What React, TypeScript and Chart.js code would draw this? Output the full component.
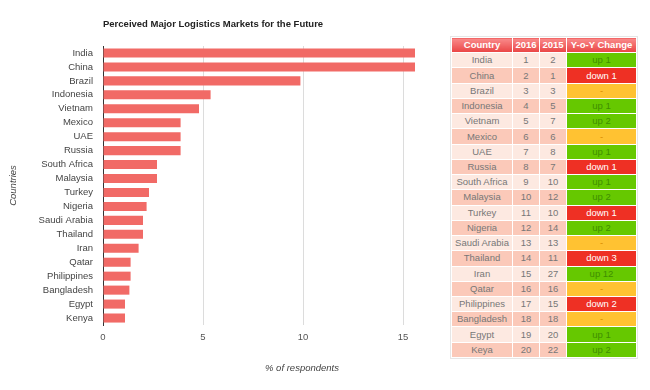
import React, { useEffect, useRef } from "react";
import { Chart, registerables } from "chart.js";

Chart.register(...registerables);

const chartTitle = "Perceived Major Logistics Markets for the Future";
const xAxisTitle = "% of respondents";
const yAxisTitle = "Countries";

const countries = [
  "India", "China", "Brazil", "Indonesia", "Vietnam", "Mexico", "UAE", "Russia",
  "South Africa", "Malaysia", "Turkey", "Nigeria", "Saudi Arabia", "Thailand",
  "Iran", "Qatar", "Philippines", "Bangladesh", "Egypt", "Kenya",
];
const respondents = [
  15.6, 15.6, 9.87, 5.38, 4.8, 3.88, 3.88, 3.88, 2.7, 2.7, 2.3, 2.18, 2.0, 2.0,
  1.78, 1.38, 1.38, 1.32, 1.1, 1.1,
];
const xTicks = [0, 5, 10, 15];

const tableHeader = ["Country", "2016", "2015", "Y-o-Y Change"];
const tableCountries = [
  "India", "China", "Brazil", "Indonesia", "Vietnam", "Mexico", "UAE", "Russia",
  "South Africa", "Malaysia", "Turkey", "Nigeria", "Saudi Arabia", "Thailand",
  "Iran", "Qatar", "Philippines", "Bangladesh", "Egypt", "Keya",
];
const rank2016 = [1, 2, 3, 4, 5, 6, 7, 8, 9, 10, 11, 12, 13, 14, 15, 16, 17, 18, 19, 20];
const rank2015 = [2, 1, 3, 5, 7, 6, 8, 7, 10, 12, 10, 14, 13, 11, 27, 16, 15, 18, 20, 22];
const changes = [
  "up 1", "down 1", "-", "up 1", "up 2", "-", "up 1", "down 1", "up 1", "up 2",
  "down 1", "up 2", "-", "down 3", "up 12", "-", "down 2", "-", "up 1", "up 2",
];

const FONT = '"Liberation Sans", Arial, sans-serif';

function changeStyle(c: string): React.CSSProperties {
  if (c.startsWith("up")) return { background: "#66c800", color: "#3f8f00" };
  if (c.startsWith("down")) return { background: "#ee3024", color: "#ffffff" };
  return { background: "#ffc232", color: "#d98c00" };
}

export default function App() {
  const ref = useRef<HTMLCanvasElement>(null);

  useEffect(() => {
    if (!ref.current) return;
    Chart.defaults.font.family = FONT;
    const titles = {
      id: "customTitles",
      afterDraw(chart: any) {
        const ctx = chart.ctx;
        const a = chart.chartArea;
        ctx.save();
        ctx.font = `bold 9.5px ${FONT}`;
        ctx.fillStyle = "#222222";
        ctx.textAlign = "left";
        ctx.textBaseline = "middle";
        ctx.fillText(chartTitle, a.left, 24);
        ctx.font = `italic 9.5px ${FONT}`;
        ctx.fillStyle = "#444444";
        ctx.textAlign = "center";
        ctx.fillText(xAxisTitle, a.left + 199, 368);
        ctx.restore();
      },
    };
    const chart = new Chart(ref.current, {
      type: "bar",
      data: {
        labels: countries,
        datasets: [
          {
            data: respondents,
            backgroundColor: "#f16a66",
            barPercentage: 0.65,
            categoryPercentage: 1,
          },
        ],
      },
      options: {
        indexAxis: "y",
        responsive: false,
        animation: false,
        layout: { padding: { top: 46, right: 17, bottom: 0, left: 0 } },
        plugins: {
          legend: { display: false },
          tooltip: { enabled: false },
          title: { display: false },
        },
        scales: {
          x: {
            min: 0,
            max: 16,
            afterBuildTicks: (s: any) => {
              s.ticks = xTicks.map((v) => ({ value: v }));
            },
            afterFit: (s: any) => {
              s.height = 65;
            },
            grid: {
              color: (c: any) =>
                c.tick && c.tick.value === 0 ? "rgba(0,0,0,0)" : "#dcdcdc",
              drawTicks: false,
              lineWidth: 1,
            },
            border: { display: false },
            ticks: {
              padding: 7,
              color: "#555555",
              font: { size: 9.5, family: FONT },
            },
          },
          y: {
            afterFit: (s: any) => {
              s.width = 103;
            },
            grid: { display: false, drawTicks: false },
            border: { display: true, color: "#333333", width: 1 },
            ticks: {
              padding: 10,
              color: "#444444",
              autoSkip: false,
              font: { size: 9.5, family: FONT },
            },
            title: {
              display: true,
              text: yAxisTitle,
              color: "#444444",
              font: { size: 9.5, style: "italic", family: FONT },
              padding: { top: 8, bottom: 0 },
            },
          },
        },
      },
      plugins: [titles],
    } as any);
    return () => chart.destroy();
  }, []);

  const cellBase: React.CSSProperties = {
    border: "1px solid #ffffff",
    padding: 0,
    textAlign: "center",
    height: 14.24,
    lineHeight: "14px",
    whiteSpace: "nowrap",
    overflow: "hidden",
  };

  return (
    <div style={{ position: "absolute", left: 0, top: 0, width: 650, height: 390, background: "#fff" }}>
      <canvas
        ref={ref}
        width={440}
        height={390}
        style={{ position: "absolute", left: 0, top: 0, width: 440, height: 390 }}
      />
      <div
        style={{
          position: "absolute",
          left: 450,
          top: 36,
          border: "1px solid #e6e6e6",
          background: "#fff",
        }}
      >
        <table
          style={{
            borderCollapse: "collapse",
            tableLayout: "fixed",
            width: 185,
            fontFamily: FONT,
            fontSize: 9.5,
            color: "#777777",
          }}
        >
          <colgroup>
            <col style={{ width: 61 }} />
            <col style={{ width: 27 }} />
            <col style={{ width: 27 }} />
            <col style={{ width: 70 }} />
          </colgroup>
          <thead>
            <tr>
              {tableHeader.map((h) => (
                <th
                  key={h}
                  style={{
                    ...cellBase,
                    color: "#ffffff",
                    fontWeight: "bold",
                    background: "linear-gradient(#f98b8b, #ea4444)",
                  }}
                >
                  {h}
                </th>
              ))}
            </tr>
          </thead>
          <tbody>
            {tableCountries.map((c, i) => {
              const bg = i % 2 === 0 ? "#fde9e1" : "#fbc9b9";
              return (
                <tr key={c}>
                  <td style={{ ...cellBase, background: bg }}>{c}</td>
                  <td style={{ ...cellBase, background: bg }}>{rank2016[i]}</td>
                  <td style={{ ...cellBase, background: bg }}>{rank2015[i]}</td>
                  <td style={{ ...cellBase, ...changeStyle(changes[i]) }}>{changes[i]}</td>
                </tr>
              );
            })}
          </tbody>
        </table>
      </div>
    </div>
  );
}
